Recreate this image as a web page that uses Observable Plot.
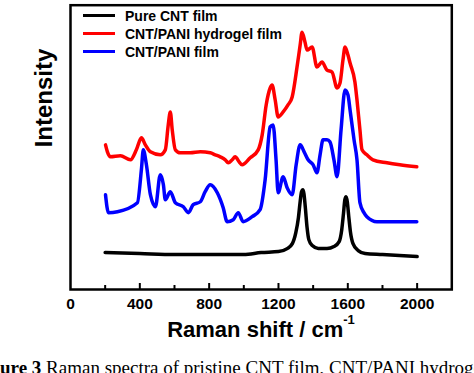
<!DOCTYPE html>
<html>
<head>
<meta charset="utf-8">
<script src="https://cdn.jsdelivr.net/npm/d3@7"></script>
<script src="https://cdn.jsdelivr.net/npm/@observablehq/plot@0.6"></script>
<style>
  html, body { margin: 0; padding: 0; background: #fff; }
  body { width: 474px; height: 373px; overflow: hidden; position: relative; font-family: "Liberation Sans", Arial, sans-serif; }
  #chart { position: absolute; left: 0; top: 0; }
  #legend { position: absolute; left: 83px; top: 6.7px; }
  .row { display: flex; align-items: center; height: 18px; }
  .sw { width: 32px; height: 3px; margin-right: 10px; }
  .lab { font-size: 14px; font-weight: bold; color: #000; white-space: nowrap; }
  #caption { position: absolute; left: -26.4px; top: 358px; font-family: "Liberation Serif", "Times New Roman", serif; font-size: 19px; line-height: 19px; white-space: nowrap; color: #000; }
</style>
</head>
<body>
<div id="chart"></div>
<div id="legend"></div>
<div id="caption"><b>Figure 3</b> Raman spectra of pristine CNT film, CNT/PANI hydrogel film and CNT/PANI film.</div>
<script>
// ---- Data ----
const seriesNames = ["Pure CNT film", "CNT/PANI hydrogel film", "CNT/PANI film"];
const seriesColors = ["#000000", "#ff0000", "#0000ff"];

const cntShift = [200, 400, 600, 800, 1000, 1100, 1200, 1250, 1280, 1300, 1315, 1325, 1333, 1340, 1347, 1355, 1365, 1375, 1395, 1430, 1480, 1520, 1550, 1565, 1575, 1583, 1590, 1597, 1605, 1615, 1630, 1660, 1700, 1800, 2000];
const cntIntensity = [37, 36, 35, 35, 35, 37, 38, 41, 46, 57, 72, 88, 98, 100, 96, 82, 62, 50, 44, 41, 41, 43, 48, 60, 76, 90, 93, 88, 74, 58, 46, 39, 36, 35, 33];

const hydrogelShift = [202, 213, 230, 288, 346, 380, 409, 432, 461, 518, 547, 564, 576, 587, 605, 633, 691, 749, 806, 835, 864, 893, 910, 933, 950, 973, 990, 1037, 1083, 1106, 1129, 1152, 1163, 1181, 1198, 1227, 1255, 1279, 1307, 1325, 1336, 1353, 1365, 1394, 1422, 1451, 1480, 1509, 1538, 1555, 1572, 1584, 1601, 1613, 1641, 1653, 1670, 1682, 1710, 1745, 1826, 1900, 1998];
const hydrogelIntensity = [145, 138, 133, 134, 130, 140, 152, 145, 138, 135, 140, 165, 178, 160, 140, 137, 137, 138, 137, 135, 133, 130, 127, 130, 133, 128, 125, 132, 140, 155, 185, 202, 205, 190, 173, 178, 185, 193, 223, 245, 258, 248, 240, 243, 223, 228, 220, 218, 202, 207, 230, 243, 235, 227, 208, 190, 160, 140, 135, 130, 127, 125, 123];

const filmShift = [202, 219, 271, 386, 409, 420, 438, 461, 490, 518, 536, 547, 576, 605, 651, 680, 708, 749, 777, 806, 847, 881, 904, 939, 968, 996, 1048, 1094, 1123, 1152, 1169, 1186, 1198, 1227, 1250, 1279, 1302, 1325, 1348, 1371, 1400, 1422, 1440, 1457, 1480, 1497, 1520, 1538, 1561, 1584, 1601, 1613, 1636, 1653, 1670, 1693, 1710, 1768, 1860, 1998];
const filmIntensity = [95, 77, 78, 87, 120, 140, 125, 95, 83, 115, 105, 90, 98, 87, 83, 77, 85, 88, 98, 105, 97, 82, 68, 70, 77, 68, 73, 80, 110, 163, 165, 130, 97, 113, 102, 95, 125, 145, 138, 130, 125, 117, 135, 150, 150, 148, 130, 113, 160, 200, 195, 180, 150, 130, 87, 77, 73, 68, 68, 68];

const majorTicks = [0, 400, 800, 1200, 1600, 2000];
const minorTicks = [200, 600, 1000, 1400, 1800];
const xDomain = [0, 2200];
const yDomain = [0, 285];
const xLabel = "Raman shift / cm";
const xLabelSup = "-1";
const yLabel = "Intensity";

// ---- Build table ----
const rows = [];
cntShift.forEach((s, i) => rows.push({series: seriesNames[0], shift: s, intensity: cntIntensity[i]}));
hydrogelShift.forEach((s, i) => rows.push({series: seriesNames[1], shift: s, intensity: hydrogelIntensity[i]}));
filmShift.forEach((s, i) => rows.push({series: seriesNames[2], shift: s, intensity: filmIntensity[i]}));

const font = "'Liberation Sans', Arial, sans-serif";

const plot = Plot.plot({
  width: 474,
  height: 350,
  marginLeft: 70,
  marginRight: 22.7,
  marginTop: 4.7,
  marginBottom: 61,
  style: {background: "#fff", fontFamily: font},
  x: {domain: xDomain, axis: null},
  y: {domain: yDomain, axis: null},
  color: {domain: seriesNames, range: seriesColors},
  marks: [
    Plot.line(rows, {x: "shift", y: "intensity", z: "series", stroke: "series", strokeWidth: 3.5, strokeLinejoin: "round", curve: "monotone-x"}),
    Plot.ruleX(majorTicks.filter(d => d > 0), {y1: yDomain[0], y2: yDomain[0] + 6, stroke: "#000", strokeWidth: 2}),
    Plot.ruleX(minorTicks, {y1: yDomain[0], y2: yDomain[0] + 4, stroke: "#000", strokeWidth: 2}),
    Plot.text(majorTicks, {x: d => d, text: d => String(d), frameAnchor: "bottom", lineAnchor: "top", dy: 8, fontSize: 15.5, fontWeight: "bold", fill: "#000"}),
    Plot.text([yLabel], {text: d => d, frameAnchor: "left", rotate: -90, dx: -26, fontSize: 24, fontWeight: "bold", fill: "#000"}),
    Plot.frame({stroke: "#000", strokeWidth: 2.5})
  ]
});
document.getElementById("chart").appendChild(plot);

// x label with superscript
const svg = d3.select(plot);
const t = svg.append("text")
  .attr("x", 261).attr("y", 337)
  .attr("text-anchor", "middle")
  .attr("font-family", font)
  .attr("font-size", 22).attr("font-weight", "bold").attr("fill", "#000");
t.append("tspan").text(xLabel);
t.append("tspan").attr("dy", -13).attr("font-size", 13).text(xLabelSup);

// legend
const legend = d3.select("#legend");
seriesNames.forEach((n, i) => {
  const r = legend.append("div").attr("class", "row");
  r.append("div").attr("class", "sw").style("background", seriesColors[i]);
  r.append("div").attr("class", "lab").text(n);
});
</script>
</body>
</html>
